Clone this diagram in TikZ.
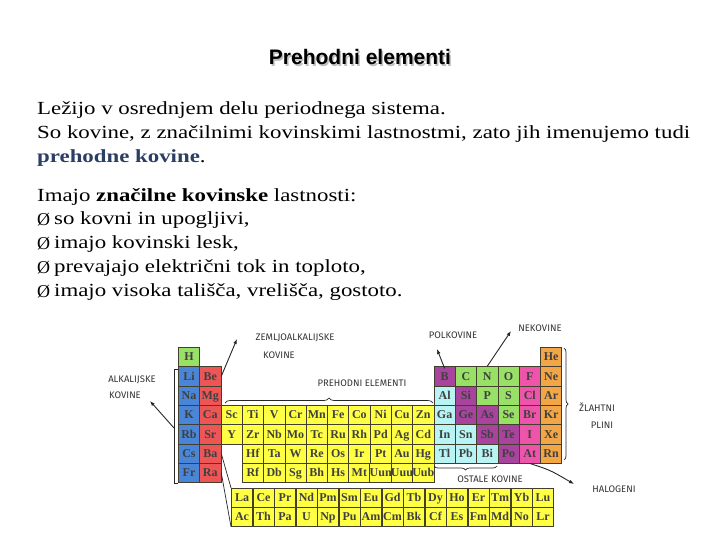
\documentclass[tikz,border=0pt]{standalone}
\usepackage{fontspec}
\setmainfont[FakeStretch=1.235]{Liberation Serif}
\newfontfamily\titlefont{Liberation Sans}
\newfontfamily\handfont{Fira Sans}
\newfontfamily\cellfont{Liberation Serif}
\usetikzlibrary{decorations.pathreplacing,arrows.meta}
\definecolor{cB}{HTML}{4A86D8}
\definecolor{cR}{HTML}{EE5555}
\definecolor{cY}{HTML}{FFFF44}
\definecolor{cG}{HTML}{99E066}
\definecolor{cP}{HTML}{A8449E}
\definecolor{cC}{HTML}{B8F4F4}
\definecolor{cK}{HTML}{EE55AA}
\definecolor{cO}{HTML}{F2A646}
\definecolor{kblue}{HTML}{2B3F63}
\tikzset{
  cell/.style={draw=black!70!olive, line width=0.6pt, minimum width=21.3pt, minimum height=19.3pt, inner sep=0pt, text height=8.2pt, text depth=0.5pt, font=\cellfont\fontsize{12}{12}\selectfont\bfseries, text=black!75},
  hand/.style={font=\handfont\fontsize{9.5}{10}\selectfont, text=black!80, inner sep=1pt},
  body/.style={anchor=west, inner sep=0pt, font=\fontsize{18.5}{22}\selectfont},
  harrow/.style={-{Latex[length=5pt]}, line width=0.9pt, black!85},
  hline/.style={line width=0.7pt, black!85}
}
\newcommand{\elrow}[2]{%
  \foreach \c/\s/\k in {#2} {
    \node[cell, fill=c\k] (e-\s) at ({189+21.3*(\c-1)},{357+19.3*(#1-1)}) {\s};
  }}
\begin{document}
\begin{tikzpicture}[x=1pt,y=-1pt]
\useasboundingbox (0,0) rectangle (720,540);
\fill[white] (0,0) rectangle (720,540);
% title
\node[font=\titlefont\bfseries\fontsize{21}{21}\selectfont, text=black!25] (tsh) at (361.5,58.5) {Prehodni elementi};
\node[font=\titlefont\bfseries\fontsize{21}{21}\selectfont] (title) at (360,57) {Prehodni elementi};
% body text
\node[body] (l1) at (37,110) {Ležijo v osrednjem delu periodnega sistema.};
\node[body] (l2) at (37,134) {So kovine, z značilnimi kovinskimi lastnostmi, zato jih imenujemo tudi};
\node[body] (l3) at (37,158) {\textcolor{kblue}{\textbf{prehodne kovine}}.};
\node[body] (l4) at (37,197) {Imajo \textbf{značilne kovinske} lastnosti:};
\foreach \y/\t [count=\i] in {220/{so kovni in upogljivi,},244/{imajo kovinski lesk,},268/{prevajajo električni tok in toploto,},292/{imajo visoka tališča, vrelišča, gostoto.}} {
  \node[body, font=\cellfont\fontsize{18}{22}\selectfont] (b\i) at (37,\y) {Ø};
  \node[body] (bt\i) at (54,\y) {\t};
}
% periodic table
\elrow{1}{1/H/G,18/He/O}
\elrow{2}{1/Li/B,2/Be/R,13/B/P,14/C/G,15/N/G,16/O/G,17/F/K,18/Ne/O}
\elrow{3}{1/Na/B,2/Mg/R,13/Al/C,14/Si/P,15/P/G,16/S/G,17/Cl/K,18/Ar/O}
\elrow{4}{1/K/B,2/Ca/R,3/Sc/Y,4/Ti/Y,5/V/Y,6/Cr/Y,7/Mn/Y,8/Fe/Y,9/Co/Y,10/Ni/Y,11/Cu/Y,12/Zn/Y,13/Ga/C,14/Ge/P,15/As/P,16/Se/G,17/Br/K,18/Kr/O}
\elrow{5}{1/Rb/B,2/Sr/R,3/Y/Y,4/Zr/Y,5/Nb/Y,6/Mo/Y,7/Tc/Y,8/Ru/Y,9/Rh/Y,10/Pd/Y,11/Ag/Y,12/Cd/Y,13/In/C,14/Sn/C,15/Sb/P,16/Te/P,17/I/K,18/Xe/O}
\elrow{6}{1/Cs/B,2/Ba/R,4/Hf/Y,5/Ta/Y,6/W/Y,7/Re/Y,8/Os/Y,9/Ir/Y,10/Pt/Y,11/Au/Y,12/Hg/Y,13/Tl/C,14/Pb/C,15/Bi/C,16/Po/P,17/At/K,18/Rn/O}
\elrow{7}{1/Fr/B,2/Ra/R,4/Rf/Y,5/Db/Y,6/Sg/Y,7/Bh/Y,8/Hs/Y,9/Mt/Y,10/Uun/Y,11/Uuu/Y,12/Uub/Y}
\foreach \s [count=\i] in {La,Ce,Pr,Nd,Pm,Sm,Eu,Gd,Tb,Dy,Ho,Er,Tm,Yb,Lu}
  \node[cell, fill=cY] (e-\s) at ({242+21.5*(\i-1)},498) {\s};
\foreach \s [count=\i] in {Ac,Th,Pa,U,Np,Pu,Am,Cm,Bk,Cf,Es,Fm,Md,No,Lr}
  \node[cell, fill=cY] (e-\s) at ({242+21.5*(\i-1)},517) {\s};
% hand labels
\node[hand] (zem1) at (295,338) {ZEMLJOALKALIJSKE};
\node[hand] (zem2) at (279,355) {KOVINE};
\draw[harrow] (e-Be.east) .. controls (228,360) .. (237,339);
\node[hand] (alk1) at (132,380) {ALKALIJSKE};
\node[hand] (alk2) at (125,395) {KOVINE};
\draw[hline] (178,369) -- (174,369) -- (174,483) -- (178,483);
\coordinate (ak) at (174,428);
\draw[harrow] (ak) -- (150,401);
\node[hand] (pre) at (362,383) {PREHODNI ELEMENTI};
\draw[hline, decorate, decoration={brace, amplitude=5pt}] (225,403) -- (433,403);
\node[hand] (pol) at (453,335) {POLKOVINE};
\draw[harrow] (e-B.north) ++(0,2) -- (437,349);
\node[hand] (nek) at (540,328) {NEKOVINE};
\draw[harrow] (e-N.north) -- (511,331);
\draw[hline, decorate, decoration={brace, amplitude=4pt}] (564,348) -- (564,460);
\node[hand] (zl1) at (597,407) {ŽLAHTNI};
\node[hand] (zl2) at (602,425) {PLINI};
\draw[hline, decorate, decoration={brace, amplitude=4pt, mirror}] (434,466) -- (497,466);
\node[hand] (ost) at (490,479) {OSTALE KOVINE};
\draw[harrow] (e-At.south) .. controls (550,470) .. (574,484);
\node[hand] (hal) at (614,489) {HALOGENI};
\draw[hline] (e-Ba.east) -- (e-La.north west);
\draw[hline] (e-Ra.east) -- (e-Ac.south west);
\end{tikzpicture}
\end{document}
